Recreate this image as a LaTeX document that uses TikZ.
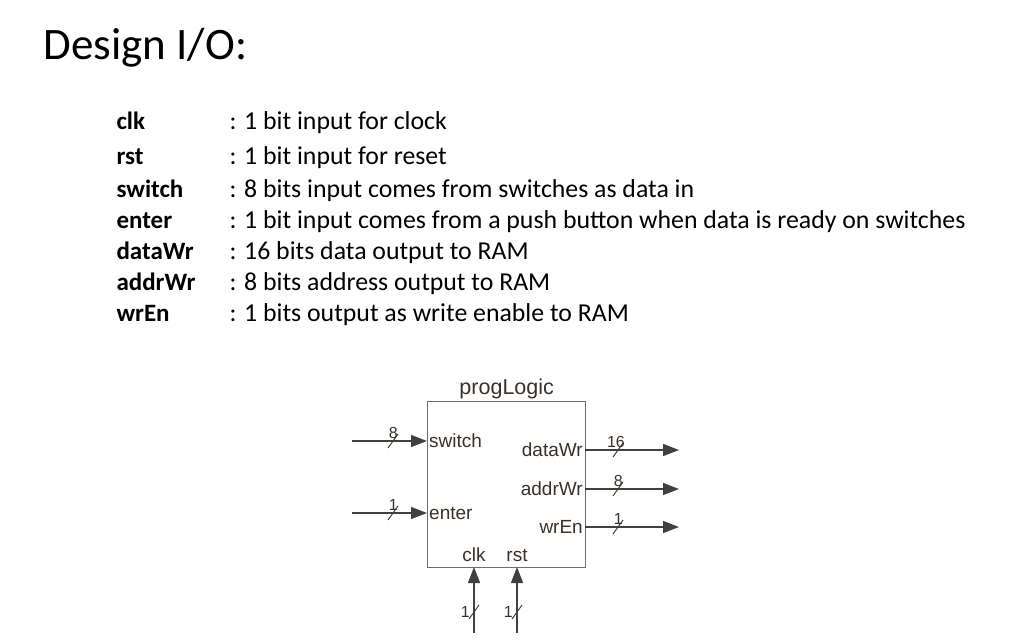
\documentclass[tikz,border=0pt]{standalone}
\usepackage{fontspec}
\setmainfont{Carlito}
\newfontfamily\diafont{Liberation Sans}
\usetikzlibrary{positioning,calc,arrows.meta}
\tikzset{>={Triangle[length=16pt,width=12pt]}}
\definecolor{lbl}{HTML}{3A3028}
\definecolor{boxgray}{HTML}{6E6E6E}
\tikzset{
  io/.style={anchor=base west,font=\fontsize{25pt}{29pt}\selectfont\bfseries},
  desc/.style={anchor=base west,font=\fontsize{25.8pt}{30pt}\selectfont},
  port/.style={font=\diafont\fontsize{19pt}{22pt}\selectfont,text=lbl,inner sep=2pt},
  wire/.style={draw=black!75,line width=1.4pt},
  width/.style={font=\diafont\fontsize{16pt}{18pt}\selectfont,text=lbl,inner sep=1pt}
}
% bus width mark: slash plus count
\newcommand\buswidth[3]{%
  \draw[black!75,line width=1pt] ($(#1)+(-5,7)$) -- ($(#1)+(5,-7)$);
  \node[width,#3] at (#1) {#2};}
\begin{document}
\begin{tikzpicture}[x=1pt,y=-1pt]
\useasboundingbox (0,0) rectangle (1024,640);
\node[anchor=west,font=\fontsize{45pt}{52pt}\selectfont] (title) at (40,48) {Design I/O:};

% signal list
\foreach \name/\txt/\y in {clk/1 bit input for clock/129,
  rst/1 bit input for reset/164,
  switch/8 bits input comes from switches as data in/197,
  enter/1 bit input comes from a push button when data is ready on switches/228,
  dataWr/16 bits data output to RAM/259,
  addrWr/8 bits address output to RAM/290,
  wrEn/1 bits output as write enable to RAM/321}{
  \node[io] (n-\name) at (113,\y) {\name};
  \node[desc] (d-\name) at (226,\y) {: \txt};
}

% block
\node[draw=boxgray,line width=1.4pt,minimum width=158pt,minimum height=166pt,anchor=north west] (blk) at (427,401) {};
\node[port,font=\diafont\fontsize{21.5pt}{25pt}\selectfont,above=0pt of blk.north] (bname) {progLogic};

\coordinate (switch) at (427,441);
\coordinate (enter) at (427,513);
\coordinate (dataWr) at (585,450);
\coordinate (addrWr) at (585,489);
\coordinate (wrEn) at (585,527);
\coordinate (clk) at (474,567);
\coordinate (rst) at (517,567);

\node[port,anchor=west] at (switch) {switch};
\node[port,anchor=west] at (enter) {enter};
\node[port,anchor=east] at (dataWr) {dataWr};
\node[port,anchor=east] at (addrWr) {addrWr};
\node[port,anchor=east] at (wrEn) {wrEn};
\node[port,anchor=south] at ($(clk)+(0,-3)$) {clk};
\node[port,anchor=south] at ($(rst)+(0,-3)$) {rst};

\coordinate (switch-in) at (352,441);
\coordinate (enter-in) at (352,513);
\coordinate (dataWr-out) at (679,450);
\coordinate (addrWr-out) at (679,489);
\coordinate (wrEn-out) at (679,527);
\coordinate (clk-in) at (474,633);
\coordinate (rst-in) at (517,633);

\draw[wire,->] (switch-in) -- (switch);
\draw[wire,->] (enter-in) -- (enter);
\draw[wire,->] (dataWr) -- (dataWr-out);
\draw[wire,->] (addrWr) -- (addrWr-out);
\draw[wire,->] (wrEn) -- (wrEn-out);
\draw[wire,->] (clk-in) -- (clk);
\draw[wire,->] (rst-in) -- (rst);

\buswidth{393,441}{8}{above left=1pt and -6pt}
\buswidth{393,513}{1}{above left=1pt and -6pt}
\buswidth{618,450}{16}{above left=1pt and -8pt}
\buswidth{618,489}{8}{above left=1pt and -6pt}
\buswidth{618,527}{1}{above left=1pt and -6pt}
\buswidth{474,612}{1}{left=3pt}
\buswidth{517,612}{1}{left=3pt}
\end{tikzpicture}
\end{document}
